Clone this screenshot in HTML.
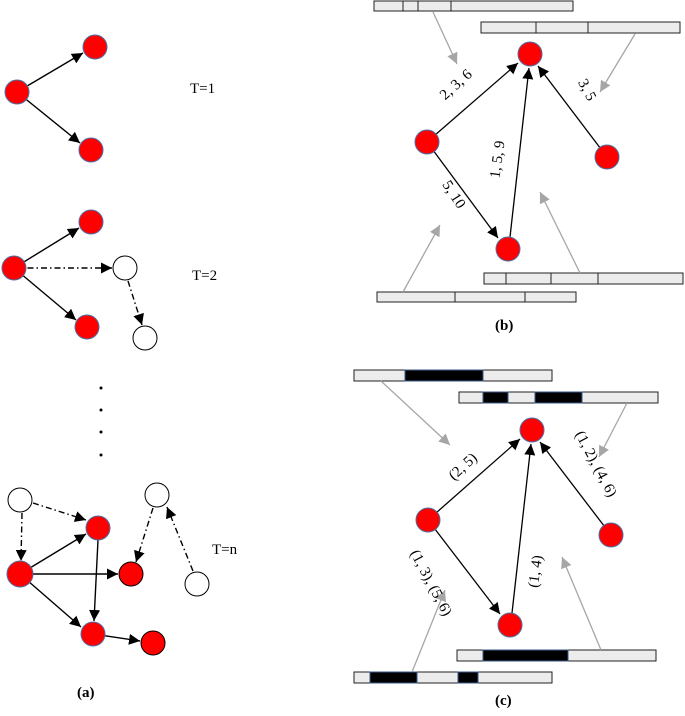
<!DOCTYPE html>
<html><head><meta charset="utf-8"><style>html,body{margin:0;padding:0;background:#fff}svg{display:block}</style></head><body>
<svg width="685" height="716" viewBox="0 0 685 716" xmlns="http://www.w3.org/2000/svg" font-family="Liberation Serif, serif">
<defs>
<marker id="a" viewBox="0 0 10 10" refX="10" refY="5" markerWidth="9" markerHeight="9" markerUnits="userSpaceOnUse" orient="auto"><path d="M0,0L10,5L0,10z" fill="#000"/></marker>
<marker id="ab" viewBox="0 0 10 10" refX="10" refY="5" markerWidth="11" markerHeight="11" markerUnits="userSpaceOnUse" orient="auto"><path d="M0,0L10,5L0,10z" fill="#000"/></marker>
<marker id="g" viewBox="0 0 10 10" refX="10" refY="5" markerWidth="11" markerHeight="11" markerUnits="userSpaceOnUse" orient="auto"><path d="M0,0L10,5L0,10z" fill="#a6a6a6"/></marker>
</defs>
<g stroke="#000" stroke-width="1.4" fill="none">
<!-- a: T=1 -->
<line x1="17" y1="92" x2="83" y2="53" marker-end="url(#ab)"/>
<line x1="17" y1="92" x2="80" y2="143" marker-end="url(#ab)"/>
<!-- T=2 -->
<line x1="14" y1="268" x2="79" y2="228" marker-end="url(#ab)"/>
<line x1="14" y1="268" x2="76" y2="320" marker-end="url(#ab)"/>
<line x1="14" y1="268" x2="112" y2="268" stroke-dasharray="6,3,1.5,3" marker-end="url(#ab)"/>
<line x1="128" y1="281" x2="142" y2="325" stroke-dasharray="6,3,1.5,3" marker-end="url(#ab)"/>
<!-- T=n -->
<line x1="20" y1="574" x2="86" y2="534" marker-end="url(#ab)"/>
<line x1="20" y1="574" x2="118" y2="574" marker-end="url(#ab)"/>
<line x1="20" y1="574" x2="81" y2="627" marker-end="url(#ab)"/>
<line x1="98" y1="540" x2="94" y2="621" marker-end="url(#ab)"/>
<line x1="93" y1="634" x2="140" y2="641" marker-end="url(#ab)"/>
<line x1="22" y1="513" x2="21" y2="561" stroke-dasharray="6,3,1.5,3" marker-end="url(#ab)"/>
<line x1="33" y1="503" x2="86" y2="520" stroke-dasharray="6,3,1.5,3" marker-end="url(#ab)"/>
<line x1="153" y1="508" x2="136" y2="562" stroke-dasharray="6,3,1.5,3" marker-end="url(#ab)"/>
<line x1="193" y1="571" x2="167" y2="507" stroke-dasharray="6,3,1.5,3" marker-end="url(#ab)"/>
</g>
<g stroke="#4a6fa5" stroke-width="1" fill="#f00">
<circle cx="17" cy="92" r="12"/><circle cx="95" cy="47" r="12"/><circle cx="91" cy="150" r="12"/>
<circle cx="14" cy="268" r="12"/><circle cx="91" cy="222" r="12"/><circle cx="87" cy="327" r="12"/>
<circle cx="98" cy="528" r="12"/><circle cx="20" cy="574" r="13"/><circle cx="93" cy="634" r="12"/>
</g>
<g stroke="#000" stroke-width="1" fill="#f00"><circle cx="131" cy="574" r="12"/><circle cx="153" cy="643" r="12"/></g>
<g stroke="#000" stroke-width="1" fill="#fff">
<circle cx="125" cy="268" r="12"/><circle cx="145" cy="338" r="12"/>
<circle cx="20" cy="500" r="12"/><circle cx="157" cy="495" r="12"/><circle cx="197" cy="584" r="12"/>
</g>
<g fill="#000"><circle cx="101" cy="388" r="1.5"/><circle cx="101" cy="410" r="1.5"/><circle cx="101" cy="432" r="1.5"/><circle cx="101" cy="455" r="1.5"/></g>
<g font-size="15" fill="#000">
<text x="190" y="93">T=1</text><text x="192" y="280">T=2</text><text x="212" y="554">T=n</text>
<text x="77" y="697" font-weight="bold">(a)</text>
<text x="495" y="330" font-weight="bold">(b)</text>
<text x="495" y="705" font-weight="bold">(c)</text>
</g>
<!-- bars b -->
<g stroke="#222" stroke-width="1" fill="#ececec">
<rect x="374" y="1" width="199" height="10"/><rect x="481" y="22" width="199" height="11"/>
<rect x="484" y="273" width="199" height="11"/><rect x="377" y="292" width="199" height="10"/>
<line x1="403" y1="1" x2="403" y2="11"/><line x1="418" y1="1" x2="418" y2="11"/><line x1="451" y1="1" x2="451" y2="11"/>
<line x1="536" y1="22" x2="536" y2="33"/><line x1="588" y1="22" x2="588" y2="33"/>
<line x1="506" y1="273" x2="506" y2="284"/><line x1="551" y1="273" x2="551" y2="284"/><line x1="598" y1="273" x2="598" y2="284"/>
<line x1="455" y1="292" x2="455" y2="302"/><line x1="525" y1="292" x2="525" y2="302"/>
</g>
<!-- bars c -->
<g stroke="#222" stroke-width="1" fill="#ececec">
<rect x="354" y="370" width="198" height="11"/><rect x="459" y="392" width="199" height="11"/>
<rect x="457" y="650" width="199" height="11"/><rect x="354" y="672" width="198" height="11"/>
</g>
<g fill="#000" stroke="#3a5a8a" stroke-width="1">
<rect x="405" y="370" width="78" height="11"/>
<rect x="483" y="392" width="25" height="11"/><rect x="535" y="392" width="47" height="11"/>
<rect x="483" y="650" width="85" height="11"/>
<rect x="370" y="672" width="47" height="11"/><rect x="458" y="672" width="20" height="11"/>
</g>
<!-- grey arrows -->
<g stroke="#a6a6a6" stroke-width="1.3">
<line x1="433" y1="12" x2="457" y2="64" marker-end="url(#g)"/>
<line x1="635" y1="34" x2="600" y2="92" marker-end="url(#g)"/>
<line x1="403" y1="292" x2="440" y2="225" marker-end="url(#g)"/>
<line x1="580" y1="273" x2="540" y2="192" marker-end="url(#g)"/>
<line x1="381" y1="381" x2="450" y2="445" marker-end="url(#g)"/>
<line x1="627" y1="403" x2="599" y2="457" marker-end="url(#g)"/>
<line x1="412" y1="672" x2="445" y2="590" marker-end="url(#g)"/>
<line x1="601" y1="650" x2="562" y2="557" marker-end="url(#g)"/>
</g>
<!-- graph arrows b,c -->
<g stroke="#000" stroke-width="1.3">
<line x1="427" y1="142" x2="518" y2="63" marker-end="url(#ab)"/>
<line x1="607" y1="157" x2="538" y2="66" marker-end="url(#ab)"/>
<line x1="510" y1="237" x2="529" y2="68" marker-end="url(#ab)"/>
<line x1="427" y1="142" x2="498" y2="238" marker-end="url(#ab)"/>
<line x1="428" y1="520" x2="520" y2="439" marker-end="url(#ab)"/>
<line x1="611" y1="535" x2="540" y2="442" marker-end="url(#ab)"/>
<line x1="512" y1="613" x2="531" y2="444" marker-end="url(#ab)"/>
<line x1="428" y1="520" x2="500" y2="614" marker-end="url(#ab)"/>
</g>
<g stroke="#4a6fa5" stroke-width="1" fill="#f00">
<circle cx="530" cy="54" r="12"/><circle cx="427" cy="142" r="12"/><circle cx="607" cy="157" r="12"/><circle cx="508" cy="249" r="12"/>
<circle cx="532" cy="430" r="12"/><circle cx="428" cy="520" r="12"/><circle cx="611" cy="535" r="12"/><circle cx="510" cy="625" r="12"/>
</g>
<g font-size="15" fill="#000" text-anchor="middle">
<text transform="translate(459,88) rotate(-42)">2, 3, 6</text>
<text transform="translate(583,92) rotate(62)">3, 5</text>
<text transform="translate(502,160) rotate(-82)">1, 5, 9</text>
<text transform="translate(450,197) rotate(57)">5, 10</text>
<text transform="translate(466,470) rotate(-42)">(2, 5)</text>
<text transform="translate(592,466) rotate(62)">(1, 2), (4, 6)</text>
<text transform="translate(540,572) rotate(-82)">(1, 4)</text>
<text transform="translate(427,585) rotate(62)">(1, 3), (5, 6)</text>
</g>
</svg>
</body></html>
